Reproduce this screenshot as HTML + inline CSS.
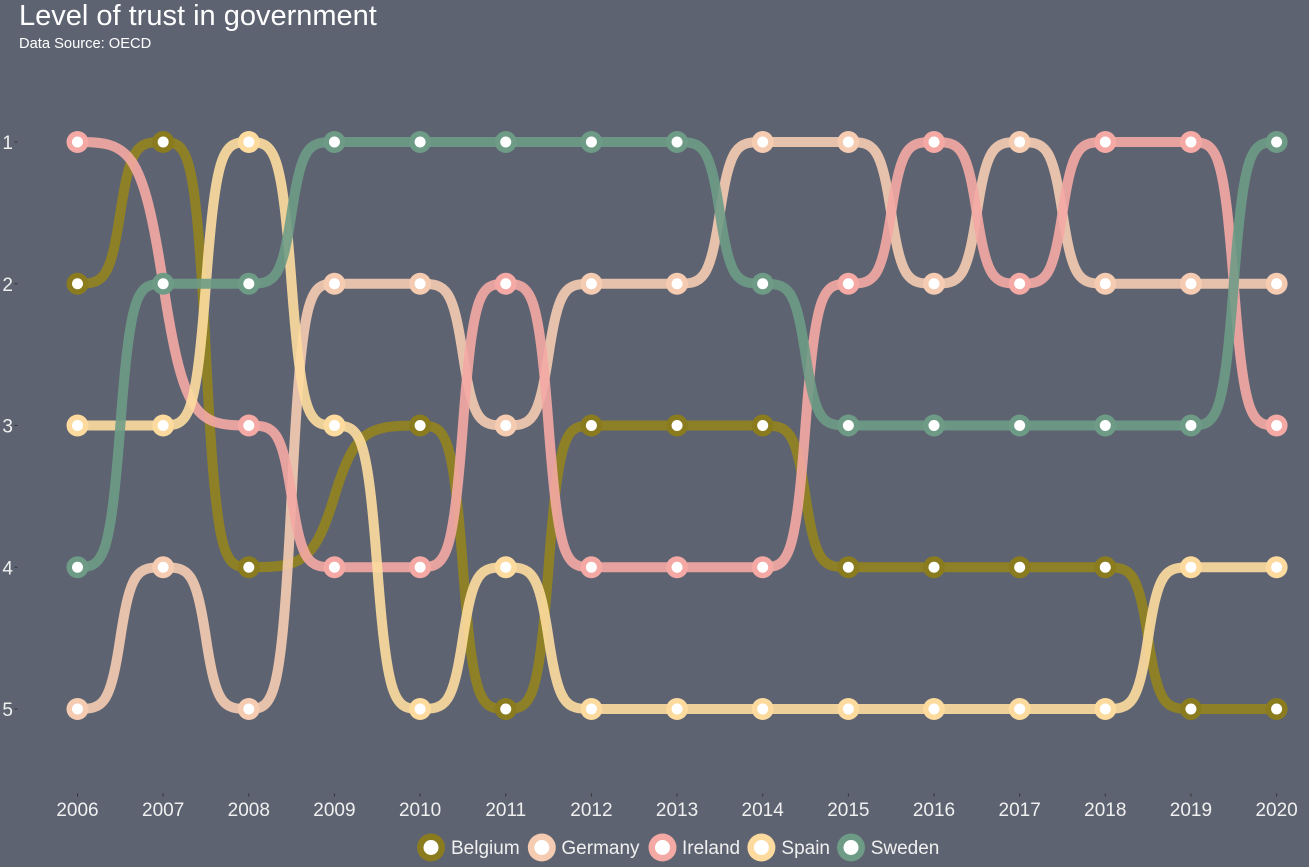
<!DOCTYPE html>
<html>
<head>
<meta charset="utf-8">
<style>
html,body{margin:0;padding:0;background:#5D6371;}
svg{display:block;}
text{font-family:"Liberation Sans",Arial,sans-serif;}
</style>
</head>
<body>
<svg width="1309" height="867" viewBox="0 0 1309 867" xmlns="http://www.w3.org/2000/svg">
<rect width="1309" height="867" fill="#5D6371"/>
<text x="19" y="25" font-size="29" fill="#FFFFFF">Level of trust in government</text>
<text x="19" y="48" font-size="14.7" fill="#FFFFFF">Data Source: OECD</text>

<!-- y axis labels and ticks -->
<g font-size="19" fill="#F0F0F0" text-anchor="end">
<text x="13" y="149">1</text>
<text x="13" y="290.75">2</text>
<text x="13" y="432.5">3</text>
<text x="13" y="574.25">4</text>
<text x="13" y="716">5</text>
</g>
<g stroke="#333" stroke-width="1">
<line x1="14.5" y1="142" x2="17.5" y2="142"/>
<line x1="14.5" y1="283.75" x2="17.5" y2="283.75"/>
<line x1="14.5" y1="425.5" x2="17.5" y2="425.5"/>
<line x1="14.5" y1="567.25" x2="17.5" y2="567.25"/>
<line x1="14.5" y1="709" x2="17.5" y2="709"/>
</g>

<!-- x axis labels and ticks -->
<g font-size="19" fill="#F0F0F0" text-anchor="middle">
<text x="77.5" y="816">2006</text>
<text x="163.15" y="816">2007</text>
<text x="248.8" y="816">2008</text>
<text x="334.45" y="816">2009</text>
<text x="420.1" y="816">2010</text>
<text x="505.75" y="816">2011</text>
<text x="591.4" y="816">2012</text>
<text x="677.05" y="816">2013</text>
<text x="762.7" y="816">2014</text>
<text x="848.35" y="816">2015</text>
<text x="934" y="816">2016</text>
<text x="1019.65" y="816">2017</text>
<text x="1105.3" y="816">2018</text>
<text x="1190.95" y="816">2019</text>
<text x="1276.6" y="816">2020</text>
</g>
<g stroke="#333" stroke-width="1">
<line x1="77.5" y1="793.5" x2="77.5" y2="796.5"/>
<line x1="163.15" y1="793.5" x2="163.15" y2="796.5"/>
<line x1="248.8" y1="793.5" x2="248.8" y2="796.5"/>
<line x1="334.45" y1="793.5" x2="334.45" y2="796.5"/>
<line x1="420.1" y1="793.5" x2="420.1" y2="796.5"/>
<line x1="505.75" y1="793.5" x2="505.75" y2="796.5"/>
<line x1="591.4" y1="793.5" x2="591.4" y2="796.5"/>
<line x1="677.05" y1="793.5" x2="677.05" y2="796.5"/>
<line x1="762.7" y1="793.5" x2="762.7" y2="796.5"/>
<line x1="848.35" y1="793.5" x2="848.35" y2="796.5"/>
<line x1="934" y1="793.5" x2="934" y2="796.5"/>
<line x1="1019.65" y1="793.5" x2="1019.65" y2="796.5"/>
<line x1="1105.3" y1="793.5" x2="1105.3" y2="796.5"/>
<line x1="1190.95" y1="793.5" x2="1190.95" y2="796.5"/>
<line x1="1276.6" y1="793.5" x2="1276.6" y2="796.5"/>
</g>

<!-- lines -->
<g fill="none" stroke-width="10" stroke-linecap="round" stroke-linejoin="round" stroke-opacity="0.9">
<!-- Belgium -->
<path stroke="#8D8026" stroke-opacity="1" d="M77.5,283.75
c25.695,0 32.547,-2.835 42.825,-70.875 c10.278,-68.04 17.13,-70.875 42.825,-70.875
c25.695,0 32.547,8.505 42.825,212.625 c10.278,204.12 17.13,212.625 42.825,212.625
c51.39,0 65.094,-2.835 85.65,-70.875 c20.556,-68.04 34.26,-70.875 85.65,-70.875
c25.695,0 32.547,5.67 42.825,141.75 c10.278,136.08 17.13,141.75 42.825,141.75
c25.695,0 32.547,-5.67 42.825,-141.75 c10.278,-136.08 17.13,-141.75 42.825,-141.75
h171.3
c25.695,0 32.547,2.835 42.825,70.875 c10.278,68.04 17.13,70.875 42.825,70.875
h256.95
c25.695,0 32.547,2.835 42.825,70.875 c10.278,68.04 17.13,70.875 42.825,70.875
h85.65"/>
<!-- Germany -->
<path stroke="#F5CBB1" d="M77.5,709
c25.695,0 32.547,-2.835 42.825,-70.875 c10.278,-68.04 17.13,-70.875 42.825,-70.875
c25.695,0 32.547,2.835 42.825,70.875 c10.278,68.04 17.13,70.875 42.825,70.875
c25.695,0 32.547,-8.505 42.825,-212.625 c10.278,-204.12 17.13,-212.625 42.825,-212.625
h85.65
c25.695,0 32.547,2.835 42.825,70.875 c10.278,68.04 17.13,70.875 42.825,70.875
c25.695,0 32.547,-2.835 42.825,-70.875 c10.278,-68.04 17.13,-70.875 42.825,-70.875
h85.65
c25.695,0 32.547,-2.835 42.825,-70.875 c10.278,-68.04 17.13,-70.875 42.825,-70.875
h85.65
c25.695,0 32.547,2.835 42.825,70.875 c10.278,68.04 17.13,70.875 42.825,70.875
c25.695,0 32.547,-2.835 42.825,-70.875 c10.278,-68.04 17.13,-70.875 42.825,-70.875
c25.695,0 32.547,2.835 42.825,70.875 c10.278,68.04 17.13,70.875 42.825,70.875
h171.3"/>
<!-- Ireland -->
<path stroke="#F4A9A4" d="M77.5,142
c51.39,0 65.094,5.67 85.65,141.75 c20.556,136.08 34.26,141.75 85.65,141.75
c25.695,0 32.547,2.835 42.825,70.875 c10.278,68.04 17.13,70.875 42.825,70.875
h85.65
c25.695,0 32.547,-5.67 42.825,-141.75 c10.278,-136.08 17.13,-141.75 42.825,-141.75
c25.695,0 32.547,5.67 42.825,141.75 c10.278,136.08 17.13,141.75 42.825,141.75
h171.3
c25.695,0 32.547,-5.67 42.825,-141.75 c10.278,-136.08 17.13,-141.75 42.825,-141.75
c25.695,0 32.547,-2.835 42.825,-70.875 c10.278,-68.04 17.13,-70.875 42.825,-70.875
c25.695,0 32.547,2.835 42.825,70.875 c10.278,68.04 17.13,70.875 42.825,70.875
c25.695,0 32.547,-2.835 42.825,-70.875 c10.278,-68.04 17.13,-70.875 42.825,-70.875
h85.65
c25.695,0 32.547,5.67 42.825,141.75 c10.278,136.08 17.13,141.75 42.825,141.75"/>
<!-- Spain -->
<path stroke="#FDDB9E" d="M77.5,425.5
h85.65
c25.695,0 32.547,-5.67 42.825,-141.75 c10.278,-136.08 17.13,-141.75 42.825,-141.75
c25.695,0 32.547,5.67 42.825,141.75 c10.278,136.08 17.13,141.75 42.825,141.75
c25.695,0 32.547,5.67 42.825,141.75 c10.278,136.08 17.13,141.75 42.825,141.75
c25.695,0 32.547,-2.835 42.825,-70.875 c10.278,-68.04 17.13,-70.875 42.825,-70.875
c25.695,0 32.547,2.835 42.825,70.875 c10.278,68.04 17.13,70.875 42.825,70.875
h513.9
c25.695,0 32.547,-2.835 42.825,-70.875 c10.278,-68.04 17.13,-70.875 42.825,-70.875
h85.65"/>
<!-- Sweden -->
<path stroke="#6E9B86" d="M77.5,567.25
c25.695,0 32.547,-5.67 42.825,-141.75 c10.278,-136.08 17.13,-141.75 42.825,-141.75
h85.65
c25.695,0 32.547,-2.835 42.825,-70.875 c10.278,-68.04 17.13,-70.875 42.825,-70.875
h342.6
c25.695,0 32.547,2.835 42.825,70.875 c10.278,68.04 17.13,70.875 42.825,70.875
c25.695,0 32.547,2.835 42.825,70.875 c10.278,68.04 17.13,70.875 42.825,70.875
h342.6
c25.695,0 32.547,-5.67 42.825,-141.75 c10.278,-136.08 17.13,-141.75 42.825,-141.75"/>
</g>

<!-- points: Belgium -->
<g fill="#8A7B1F">
<circle cx="77.5" cy="283.75" r="11"/><circle cx="163.15" cy="142" r="11"/><circle cx="248.8" cy="567.25" r="11"/>
<circle cx="420.1" cy="425.5" r="11"/><circle cx="505.75" cy="709" r="11"/><circle cx="591.4" cy="425.5" r="11"/>
<circle cx="677.05" cy="425.5" r="11"/><circle cx="762.7" cy="425.5" r="11"/><circle cx="848.35" cy="567.25" r="11"/>
<circle cx="934" cy="567.25" r="11"/><circle cx="1019.65" cy="567.25" r="11"/><circle cx="1105.3" cy="567.25" r="11"/>
<circle cx="1190.95" cy="709" r="11"/><circle cx="1276.6" cy="709" r="11"/>
</g>
<!-- Germany -->
<g fill="#F5CBB1">
<circle cx="77.5" cy="709" r="11"/><circle cx="163.15" cy="567.25" r="11"/><circle cx="248.8" cy="709" r="11"/>
<circle cx="334.45" cy="283.75" r="11"/><circle cx="420.1" cy="283.75" r="11"/><circle cx="505.75" cy="425.5" r="11"/>
<circle cx="591.4" cy="283.75" r="11"/><circle cx="677.05" cy="283.75" r="11"/><circle cx="762.7" cy="142" r="11"/>
<circle cx="848.35" cy="142" r="11"/><circle cx="934" cy="283.75" r="11"/><circle cx="1019.65" cy="142" r="11"/>
<circle cx="1105.3" cy="283.75" r="11"/><circle cx="1190.95" cy="283.75" r="11"/><circle cx="1276.6" cy="283.75" r="11"/>
</g>
<!-- Ireland -->
<g fill="#F4A9A4">
<circle cx="77.5" cy="142" r="11"/><circle cx="248.8" cy="425.5" r="11"/>
<circle cx="334.45" cy="567.25" r="11"/><circle cx="420.1" cy="567.25" r="11"/><circle cx="505.75" cy="283.75" r="11"/>
<circle cx="591.4" cy="567.25" r="11"/><circle cx="677.05" cy="567.25" r="11"/><circle cx="762.7" cy="567.25" r="11"/>
<circle cx="848.35" cy="283.75" r="11"/><circle cx="934" cy="142" r="11"/><circle cx="1019.65" cy="283.75" r="11"/>
<circle cx="1105.3" cy="142" r="11"/><circle cx="1190.95" cy="142" r="11"/><circle cx="1276.6" cy="425.5" r="11"/>
</g>
<!-- Spain -->
<g fill="#FDDB9E">
<circle cx="77.5" cy="425.5" r="11"/><circle cx="163.15" cy="425.5" r="11"/><circle cx="248.8" cy="142" r="11"/>
<circle cx="334.45" cy="425.5" r="11"/><circle cx="420.1" cy="709" r="11"/><circle cx="505.75" cy="567.25" r="11"/>
<circle cx="591.4" cy="709" r="11"/><circle cx="677.05" cy="709" r="11"/><circle cx="762.7" cy="709" r="11"/>
<circle cx="848.35" cy="709" r="11"/><circle cx="934" cy="709" r="11"/><circle cx="1019.65" cy="709" r="11"/>
<circle cx="1105.3" cy="709" r="11"/><circle cx="1190.95" cy="567.25" r="11"/><circle cx="1276.6" cy="567.25" r="11"/>
</g>
<!-- Sweden -->
<g fill="#6E9B86">
<circle cx="77.5" cy="567.25" r="11"/><circle cx="163.15" cy="283.75" r="11"/><circle cx="248.8" cy="283.75" r="11"/>
<circle cx="334.45" cy="142" r="11"/><circle cx="420.1" cy="142" r="11"/><circle cx="505.75" cy="142" r="11"/>
<circle cx="591.4" cy="142" r="11"/><circle cx="677.05" cy="142" r="11"/><circle cx="762.7" cy="283.75" r="11"/>
<circle cx="848.35" cy="425.5" r="11"/><circle cx="934" cy="425.5" r="11"/><circle cx="1019.65" cy="425.5" r="11"/>
<circle cx="1105.3" cy="425.5" r="11"/><circle cx="1190.95" cy="425.5" r="11"/><circle cx="1276.6" cy="142" r="11"/>
</g>
<!-- white inner dots -->
<g fill="#FFFFFF">
<circle cx="77.5" cy="283.75" r="5.5"/><circle cx="163.15" cy="142" r="5.5"/><circle cx="248.8" cy="567.25" r="5.5"/>
<circle cx="420.1" cy="425.5" r="5.5"/><circle cx="505.75" cy="709" r="5.5"/><circle cx="591.4" cy="425.5" r="5.5"/>
<circle cx="677.05" cy="425.5" r="5.5"/><circle cx="762.7" cy="425.5" r="5.5"/><circle cx="848.35" cy="567.25" r="5.5"/>
<circle cx="934" cy="567.25" r="5.5"/><circle cx="1019.65" cy="567.25" r="5.5"/><circle cx="1105.3" cy="567.25" r="5.5"/>
<circle cx="1190.95" cy="709" r="5.5"/><circle cx="1276.6" cy="709" r="5.5"/>

<circle cx="77.5" cy="709" r="5.5"/><circle cx="163.15" cy="567.25" r="5.5"/><circle cx="248.8" cy="709" r="5.5"/>
<circle cx="334.45" cy="283.75" r="5.5"/><circle cx="420.1" cy="283.75" r="5.5"/><circle cx="505.75" cy="425.5" r="5.5"/>
<circle cx="591.4" cy="283.75" r="5.5"/><circle cx="677.05" cy="283.75" r="5.5"/><circle cx="762.7" cy="142" r="5.5"/>
<circle cx="848.35" cy="142" r="5.5"/><circle cx="934" cy="283.75" r="5.5"/><circle cx="1019.65" cy="142" r="5.5"/>
<circle cx="1105.3" cy="283.75" r="5.5"/><circle cx="1190.95" cy="283.75" r="5.5"/><circle cx="1276.6" cy="283.75" r="5.5"/>

<circle cx="77.5" cy="142" r="5.5"/><circle cx="248.8" cy="425.5" r="5.5"/>
<circle cx="334.45" cy="567.25" r="5.5"/><circle cx="420.1" cy="567.25" r="5.5"/><circle cx="505.75" cy="283.75" r="5.5"/>
<circle cx="591.4" cy="567.25" r="5.5"/><circle cx="677.05" cy="567.25" r="5.5"/><circle cx="762.7" cy="567.25" r="5.5"/>
<circle cx="848.35" cy="283.75" r="5.5"/><circle cx="934" cy="142" r="5.5"/><circle cx="1019.65" cy="283.75" r="5.5"/>
<circle cx="1105.3" cy="142" r="5.5"/><circle cx="1190.95" cy="142" r="5.5"/><circle cx="1276.6" cy="425.5" r="5.5"/>

<circle cx="77.5" cy="425.5" r="5.5"/><circle cx="163.15" cy="425.5" r="5.5"/><circle cx="248.8" cy="142" r="5.5"/>
<circle cx="334.45" cy="425.5" r="5.5"/><circle cx="420.1" cy="709" r="5.5"/><circle cx="505.75" cy="567.25" r="5.5"/>
<circle cx="591.4" cy="709" r="5.5"/><circle cx="677.05" cy="709" r="5.5"/><circle cx="762.7" cy="709" r="5.5"/>
<circle cx="848.35" cy="709" r="5.5"/><circle cx="934" cy="709" r="5.5"/><circle cx="1019.65" cy="709" r="5.5"/>
<circle cx="1105.3" cy="709" r="5.5"/><circle cx="1190.95" cy="567.25" r="5.5"/><circle cx="1276.6" cy="567.25" r="5.5"/>

<circle cx="77.5" cy="567.25" r="5.5"/><circle cx="163.15" cy="283.75" r="5.5"/><circle cx="248.8" cy="283.75" r="5.5"/>
<circle cx="334.45" cy="142" r="5.5"/><circle cx="420.1" cy="142" r="5.5"/><circle cx="505.75" cy="142" r="5.5"/>
<circle cx="591.4" cy="142" r="5.5"/><circle cx="677.05" cy="142" r="5.5"/><circle cx="762.7" cy="283.75" r="5.5"/>
<circle cx="848.35" cy="425.5" r="5.5"/><circle cx="934" cy="425.5" r="5.5"/><circle cx="1019.65" cy="425.5" r="5.5"/>
<circle cx="1105.3" cy="425.5" r="5.5"/><circle cx="1190.95" cy="425.5" r="5.5"/><circle cx="1276.6" cy="142" r="5.5"/>
</g>

<!-- legend -->
<g>
<circle cx="431" cy="847.5" r="14" fill="#8A7B1F"/><circle cx="431" cy="847.5" r="7.5" fill="#fff"/>
<circle cx="541.8" cy="847.5" r="14" fill="#F5CBB1"/><circle cx="541.8" cy="847.5" r="7.5" fill="#fff"/>
<circle cx="662.5" cy="847.5" r="14" fill="#F4A9A4"/><circle cx="662.5" cy="847.5" r="7.5" fill="#fff"/>
<circle cx="761.4" cy="847.5" r="14" fill="#FDDB9E"/><circle cx="761.4" cy="847.5" r="7.5" fill="#fff"/>
<circle cx="851" cy="847.5" r="14" fill="#6E9B86"/><circle cx="851" cy="847.5" r="7.5" fill="#fff"/>
</g>
<g font-size="19" fill="#F0F0F0">
<text x="451" y="854">Belgium</text>
<text x="561.4" y="854">Germany</text>
<text x="682" y="854">Ireland</text>
<text x="781.4" y="854">Spain</text>
<text x="870.7" y="854">Sweden</text>
</g>
</svg>
</body>
</html>
